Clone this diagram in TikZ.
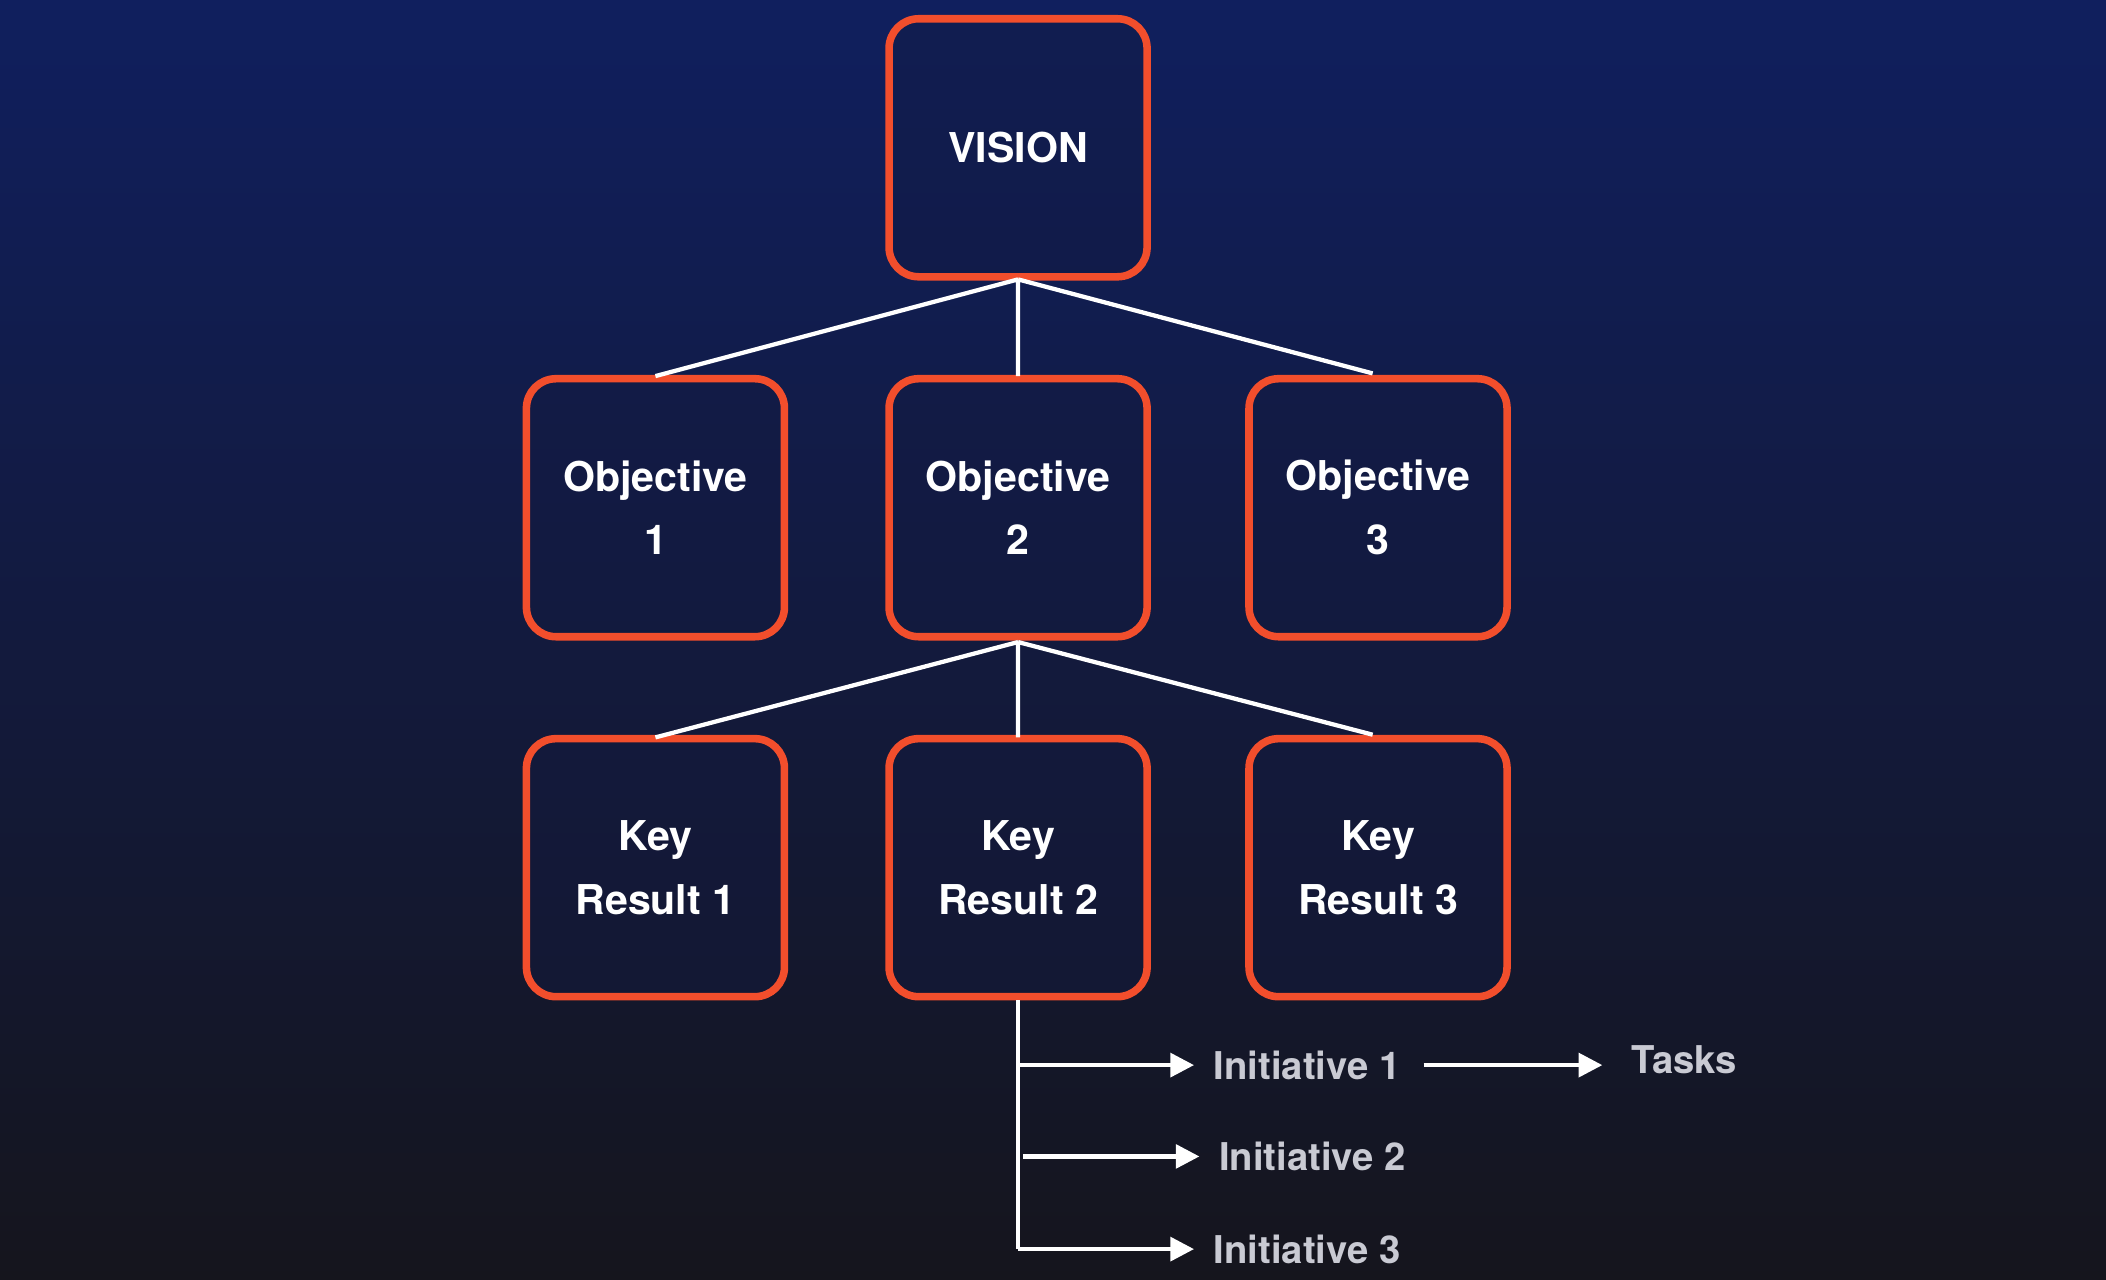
\documentclass[tikz,border=0pt]{standalone}
\usepackage{fontspec}
\setmainfont{TeX Gyre Heros}
\usetikzlibrary{arrows.meta}
\definecolor{bgtop}{HTML}{101F5E}
\definecolor{bgbot}{HTML}{15151D}
\definecolor{boxfill}{HTML}{131A40}
\definecolor{edge}{HTML}{F24E2C}
\definecolor{itext}{HTML}{C9CAD3}
\tikzset{
  okr/.style={draw=edge,line width=1.6pt,rounded corners=0.22cm,fill=boxfill,fill opacity=0.4,text opacity=1,minimum width=1.92cm,minimum height=1.92cm,text=white,font=\bfseries\fontsize{8.7}{13.5}\selectfont,align=center,inner sep=0pt},
  link/.style={draw=white,line width=0.9pt},
  arr/.style={draw=white,line width=0.9pt,-{Triangle[length=5pt,width=5pt]}},
  itxt/.style={text=itext,font=\bfseries\fontsize{8.1}{10}\selectfont,anchor=west,inner sep=0pt}
}
\begin{document}
\begin{tikzpicture}[x=0.01cm,y=-0.01cm]
\shade[top color=bgtop,bottom color=bgbot] (0,0) rectangle (1568,953);
\useasboundingbox (0,0) rectangle (1568,953);
\node[okr] (v) at (758,110) {VISION};
\node[okr] (o1) at (488,378) {Objective\\1};
\node[okr] (o2) at (758,378) {Objective\\2};
\node[okr] (o3) at (1026,378) {Objective\\3};
\node[okr] (k1) at (488,646) {Key\\Result 1};
\node[okr] (k2) at (758,646) {Key\\Result 2};
\node[okr] (k3) at (1026,646) {Key\\Result 3};
\coordinate (vb) at (758,208);
\coordinate (ob) at (758,478);
\draw[link] (vb) -- (488,280) (vb) -- (758,280) (vb) -- (1022,278);
\draw[link] (ob) -- (488,549) (ob) -- (758,549) (ob) -- (1022,547);
\node[itxt] (i1) at (903,793) {Initiative 1};
\node[itxt] (i2) at (907,861) {Initiative 2};
\node[itxt] (i3) at (903,930) {Initiative 3};
\node[itxt] (t) at (1214,789) {Tasks};
\coordinate (j1) at (758,793);
\coordinate (j2) at (762,861);
\coordinate (j3) at (758,930);
\coordinate (ta) at (1060,793);
\coordinate (tb) at (1193,793);
\draw[link] (k2.south) -- (j3);
\draw[arr] (j1) -- (889,793);
\draw[arr] (j2) -- (893,861);
\draw[arr] (j3) -- (889,930);
\draw[arr] (ta) -- (tb);
\end{tikzpicture}
\end{document}
